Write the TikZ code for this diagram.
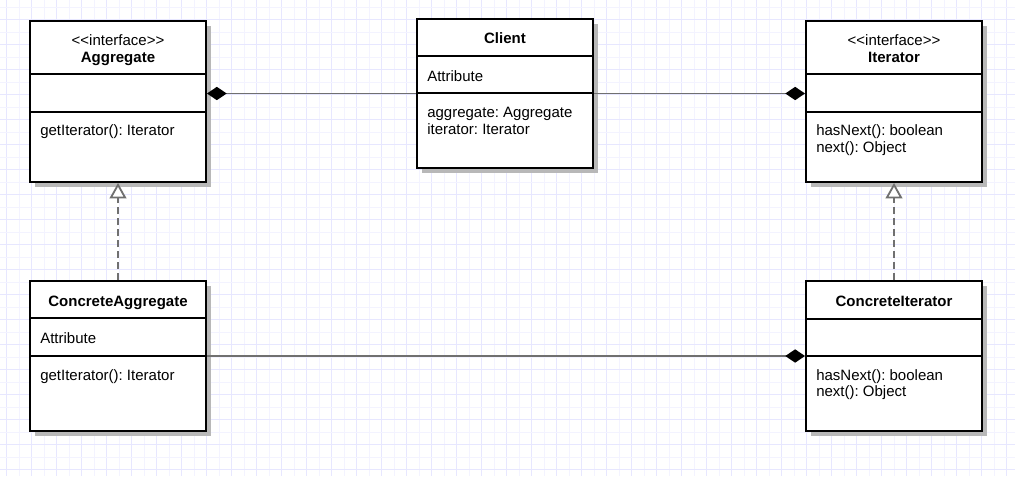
\documentclass[tikz,border=0pt]{standalone}
\usepackage{fontspec}
\setmainfont{Liberation Sans}
\usetikzlibrary{arrows.meta,shadows}
\frenchspacing

\definecolor{gridminor}{RGB}{243,243,255}
\definecolor{gridmajor}{RGB}{231,231,255}
\definecolor{linkgray}{RGB}{112,112,112}

\tikzset{
  classbox/.style={draw=black, line width=1.4pt, fill=white, minimum width=4.4cm, inner sep=0pt,
    drop shadow={shadow xshift=0.125cm, shadow yshift=-0.125cm, fill=black!28, opacity=1}},
  sepline/.style={black, line width=1.4pt},
  member/.style={anchor=base west, inner sep=0pt, font=\fontsize{10.67}{12}\selectfont},
  classname/.style={anchor=base, inner sep=0pt, font=\fontsize{10.67}{12}\selectfont\bfseries},
  stereo/.style={anchor=base, inner sep=0pt, font=\fontsize{10.67}{12}\selectfont},
  compose/.style={linkgray, line width=1.3pt, -{Diamond[length=14pt,width=9.5pt,color=black,fill=black]}},
  realize/.style={linkgray, line width=1.3pt, dash pattern=on 5pt off 2.8pt,
    -{Triangle[length=11pt,width=12pt,fill=white]}}
}

\begin{document}
\begin{tikzpicture}[x=0.025cm, y=-0.025cm]
  \useasboundingbox (0,0) rectangle (1015,476);
  \fill[white] (0,0) rectangle (1015,476);

  % background grid
  \foreach \k in {0,...,80}{
    \pgfmathsetmacro\gx{6.7+12.5*\k}
    \ifodd\k \draw[gridminor, line width=0.6pt] (\gx,0) -- (\gx,476);
    \else \draw[gridmajor, line width=0.6pt] (\gx,0) -- (\gx,476); \fi
  }
  \foreach \k in {0,...,37}{
    \pgfmathsetmacro\gy{7.3+12.5*\k}
    \ifodd\k \draw[gridmajor, line width=0.6pt] (0,\gy) -- (1015,\gy);
    \else \draw[gridminor, line width=0.6pt] (0,\gy) -- (1015,\gy); \fi
  }

  % classes
  \node[classbox, minimum height=4.025cm] (agg) at (118,101.5) {};
  \draw[sepline] (30,74) -- (206,74);
  \draw[sepline] (30,112) -- (206,112);
  \node[stereo] (aggstereo) at (118,45) {<\kern0pt<interface>\kern0pt>};
  \node[classname] (aggname) at (118,62) {Aggregate};
  \node[member] (aggop) at (40,135.5) {getIterator(): Iterator};

  \node[classbox, minimum height=3.725cm] (client) at (505,93.5) {};
  \draw[sepline] (417,56) -- (593,56);
  \draw[sepline] (417,93) -- (593,93);
  \node[classname] (clientname) at (505,43.5) {Client};
  \node[member] (clientattr) at (427,81) {Attribute};
  \node[member] (clientagg) at (427,117.5) {aggregate: Aggregate};
  \node[member] (clientit) at (427,134) {iterator: Iterator};

  \node[classbox, minimum height=4.025cm] (iter) at (894,101.5) {};
  \draw[sepline] (806,74) -- (982,74);
  \draw[sepline] (806,112) -- (982,112);
  \node[stereo] (iterstereo) at (894,45) {<\kern0pt<interface>\kern0pt>};
  \node[classname] (itername) at (894,62) {Iterator};
  \node[member] (iterhas) at (816,135.5) {hasNext(): boolean};
  \node[member] (iternext) at (816,152) {next(): Object};

  \node[classbox, minimum height=3.75cm] (cagg) at (118,356) {};
  \draw[sepline] (30,318) -- (206,318);
  \draw[sepline] (30,356) -- (206,356);
  \node[classname] (caggname) at (118,306) {ConcreteAggregate};
  \node[member] (caggattr) at (40,343) {Attribute};
  \node[member] (caggop) at (40,380) {getIterator(): Iterator};

  \node[classbox, minimum height=3.75cm] (cit) at (894,356) {};
  \draw[sepline] (806,319) -- (982,319);
  \draw[sepline] (806,356) -- (982,356);
  \node[classname] (citname) at (894,306) {ConcreteIterator};
  \node[member] (cithas) at (816,380) {hasNext(): boolean};
  \node[member] (citnext) at (816,396.5) {next(): Object};

  % relations
  \draw[compose] (client.west) -- (client.west -| agg.east);
  \draw[compose] (client.east) -- (client.east -| iter.west);
  \draw[compose] (cagg.east) -- (cit.west);
  \draw[realize] (cagg.north) -- (agg.south);
  \draw[realize] (cit.north) -- (iter.south);
\end{tikzpicture}
\end{document}
